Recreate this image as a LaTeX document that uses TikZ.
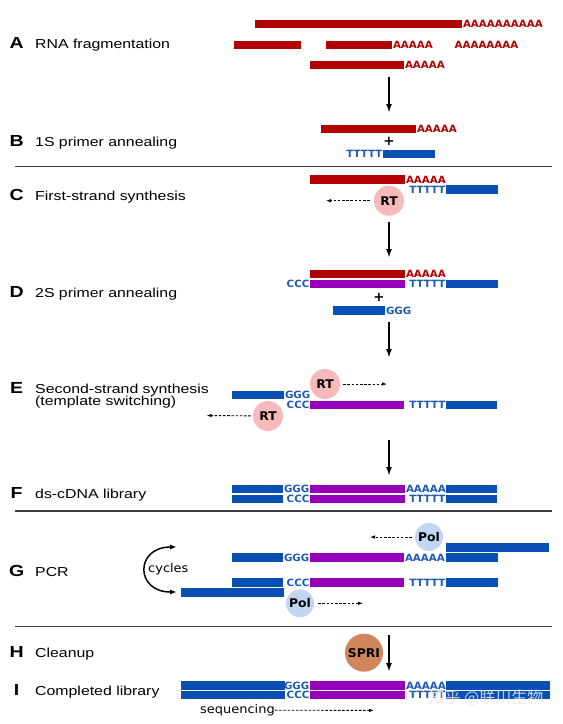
\documentclass[tikz,border=0pt]{standalone}
\usepackage{fontspec}
\setmainfont{Liberation Sans}[FakeStretch=1.22]
\newfontfamily\seqfont{DejaVu Sans}[FakeStretch=1.03]
\newfontfamily\notefont{DejaVu Sans}[FakeStretch=1.08]
\newfontfamily\cjkfont{Noto Sans CJK SC}
\usetikzlibrary{positioning,arrows.meta}

\definecolor{rnared}{RGB}{178,0,0}
\definecolor{dnablue}{RGB}{10,80,180}
\definecolor{seqblue}{RGB}{30,90,180}
\definecolor{hybpurple}{RGB}{150,0,185}
\definecolor{rtpink}{RGB}{246,186,186}
\definecolor{polblue}{RGB}{192,214,242}
\definecolor{spribrown}{RGB}{208,134,92}

\tikzset{
  strand/.style={rectangle, inner sep=0pt, minimum height=8.2pt, anchor=west},
  seqtxt/.style={inner sep=0.4pt, font=\seqfont\bfseries\fontsize{10}{10}\selectfont},
  steplett/.style={anchor=base, inner sep=0pt, font=\bfseries\fontsize{16}{16}\selectfont},
  steptxt/.style={anchor=base west, inner sep=0pt, font=\fontsize{13}{13}\selectfont},
  enzyme/.style={circle, inner sep=0pt, font=\seqfont\bfseries\fontsize{12}{12}\selectfont},
  plussign/.style={inner sep=0pt, font=\seqfont\bfseries\fontsize{13}{13}\selectfont},
  steparrow/.style={-{Latex[length=9pt,width=6pt]}, line width=1.8pt},
  dasharrow/.style={-{Latex[length=5pt,width=3.6pt]}, line width=0.9pt, dash pattern=on 2.6pt off 1.6pt},
  sepline/.style={black!75, line width=1.2pt}
}

\begin{document}
\begin{tikzpicture}[x=1pt, y=-1pt]
  \useasboundingbox (0,0) rectangle (563,724);
  \def\barh{8.2pt}

  % step labels
  \node[steplett] (la) at (16.7,48.7) {A};
  \node[steptxt] (ta) at (35,48.7) {RNA fragmentation};
  \node[steplett] (lb) at (16.7,146) {B};
  \node[steptxt] (tb) at (35,146) {1S primer annealing};
  \node[steplett] (lc) at (16.7,200.5) {C};
  \node[steptxt] (tc) at (35,200.5) {First-strand synthesis};
  \node[steplett] (ld) at (16.7,297.5) {D};
  \node[steptxt] (td) at (35,297.5) {2S primer annealing};
  \node[steplett] (le) at (16.7,393.5) {E};
  \node[steptxt] (te) at (35,393.5) {Second-strand synthesis};
  \node[steptxt] (te2) at (35,405.8) {(template switching)};
  \node[steplett] (lf) at (16.7,498.5) {F};
  \node[steptxt] (tf) at (35,498.5) {ds-cDNA library};
  \node[steplett] (lg) at (16.7,576) {G};
  \node[steptxt] (tg) at (35,576) {PCR};
  \node[steplett] (lh) at (16.7,657) {H};
  \node[steptxt] (th) at (35,657) {Cleanup};
  \node[steplett] (li) at (16.7,695) {I};
  \node[steptxt] (ti) at (35,695) {Completed library};

  % separators
  \draw[sepline] (15,166.5) -- (552,166.5);
  \draw[sepline] (15,511) -- (552,511);
  \draw[sepline] (15,626.5) -- (552,626.5);

  % A: fragments
  \node[strand, fill=rnared, minimum width=207pt] (a1) at (255,24.2) {};
  \node[seqtxt, text=rnared, right=0pt of a1] (a1t) {AAAAAAAAAA};
  \node[strand, fill=rnared, minimum width=67pt] (a2) at (234,44.7) {};
  \node[strand, fill=rnared, minimum width=66pt] (a3) at (326,44.7) {};
  \node[seqtxt, text=rnared, right=0pt of a3] (a3t) {AAAAA};
  \node[seqtxt, text=rnared, anchor=west] (a4t) at (454,44.7) {AAAAAAAA};
  \node[strand, fill=rnared, minimum width=94pt] (a5) at (310,65.3) {};
  \node[seqtxt, text=rnared, right=0pt of a5] (a5t) {AAAAA};

  % B: 1S primer
  \node[strand, fill=rnared, minimum width=95pt] (b1) at (321,128.7) {};
  \node[seqtxt, text=rnared, right=0pt of b1] (b1t) {AAAAA};
  \node[plussign] (bplus) at (389,141) {+};
  \node[strand, fill=dnablue, minimum width=52pt] (b2) at (383,154.3) {};
  \node[seqtxt, text=seqblue, left=0pt of b2] (b2t) {TTTTT};

  % C: first strand
  \node[strand, fill=rnared, minimum width=95pt] (c1) at (310,179.5) {};
  \node[seqtxt, text=rnared, right=0pt of c1] (c1t) {AAAAA};
  \node[strand, fill=dnablue, minimum width=52pt] (c2) at (446,189.5) {};
  \node[seqtxt, text=seqblue, left=0pt of c2] (c2t) {TTTTT};

  % D: 2S primer
  \node[strand, fill=rnared, minimum width=95pt] (d1) at (310,274.3) {};
  \node[seqtxt, text=rnared, right=0pt of d1] (d1t) {AAAAA};
  \node[strand, fill=hybpurple, minimum width=95pt] (d2) at (310,284.2) {};
  \node[seqtxt, text=seqblue, left=0pt of d2] (d2t) {CCC};
  \node[strand, fill=dnablue, minimum width=52pt] (d3) at (446,284.2) {};
  \node[seqtxt, text=seqblue, left=0pt of d3] (d3t) {TTTTT};
  \node[plussign] (dplus) at (379,297.7) {+};
  \node[strand, fill=dnablue, minimum width=52pt] (d4) at (333,310.5) {};
  \node[seqtxt, text=seqblue, right=0pt of d4] (d4t) {GGG};

  % E: template switching
  \node[strand, fill=dnablue, minimum width=52pt] (e1) at (232,395.3) {};
  \node[seqtxt, text=seqblue, right=0pt of e1] (e1t) {GGG};
  \node[strand, fill=hybpurple, minimum width=94pt] (e2) at (310,405.3) {};
  \node[seqtxt, text=seqblue, left=0pt of e2] (e2t) {CCC};
  \node[strand, fill=dnablue, minimum width=51pt] (e3) at (446,405.3) {};
  \node[seqtxt, text=seqblue, left=0pt of e3] (e3t) {TTTTT};

  % F: ds-cDNA
  \node[strand, fill=dnablue, minimum width=51pt] (f1) at (232,489) {};
  \node[strand, fill=hybpurple, minimum width=95pt] (f2) at (310,489) {};
  \node[seqtxt, text=seqblue, left=0pt of f2] (f2t) {GGG};
  \node[seqtxt, text=seqblue, right=0pt of f2] (f2a) {AAAAA};
  \node[strand, fill=dnablue, minimum width=51pt] (f3) at (446,489) {};
  \node[strand, fill=dnablue, minimum width=51pt] (f4) at (232,498.7) {};
  \node[strand, fill=hybpurple, minimum width=95pt] (f5) at (310,498.7) {};
  \node[seqtxt, text=seqblue, left=0pt of f5] (f5t) {CCC};
  \node[strand, fill=dnablue, minimum width=51pt] (f6) at (446,498.7) {};
  \node[seqtxt, text=seqblue, left=0pt of f6] (f6t) {TTTTT};

  % G: PCR
  \node[strand, fill=dnablue, minimum width=103pt] (g0) at (446,547.5) {};
  \node[strand, fill=dnablue, minimum width=51pt] (g1) at (232,557.5) {};
  \node[strand, fill=hybpurple, minimum width=94pt] (g2) at (310,557.5) {};
  \node[seqtxt, text=seqblue, left=0pt of g2] (g2t) {GGG};
  \node[seqtxt, text=seqblue, right=0pt of g2] (g2a) {AAAAA};
  \node[strand, fill=dnablue, minimum width=52pt] (g3) at (446,557.5) {};
  \node[strand, fill=dnablue, minimum width=51pt] (g4) at (232,582.5) {};
  \node[strand, fill=hybpurple, minimum width=94pt] (g5) at (310,582.5) {};
  \node[seqtxt, text=seqblue, left=0pt of g5] (g5t) {CCC};
  \node[strand, fill=dnablue, minimum width=52pt] (g6) at (446,582.5) {};
  \node[seqtxt, text=seqblue, left=0pt of g6] (g6t) {TTTTT};
  \node[strand, fill=dnablue, minimum width=103pt] (g7) at (181,592.5) {};

  % I: completed library
  \node[strand, fill=dnablue, minimum width=104pt] (i1) at (181,685.5) {};
  \node[strand, fill=hybpurple, minimum width=95pt] (i2) at (310,685.5) {};
  \node[seqtxt, text=seqblue, left=0pt of i2] (i2t) {GGG};
  \node[seqtxt, text=seqblue, right=0pt of i2] (i2a) {AAAAA};
  \node[strand, fill=dnablue, minimum width=104pt] (i3) at (446,685.5) {};
  \node[strand, fill=dnablue, minimum width=104pt] (i4) at (181,695.2) {};
  \node[strand, fill=hybpurple, minimum width=95pt] (i5) at (310,695.2) {};
  \node[seqtxt, text=seqblue, left=0pt of i5] (i5t) {CCC};
  \node[strand, fill=dnablue, minimum width=104pt] (i6) at (446,695.2) {};
  \node[seqtxt, text=seqblue, left=0pt of i6] (i6t) {TTTTT};

  % enzymes
  \node[enzyme, fill=rtpink, minimum size=30pt] (rtc) at (389,200.7) {RT};
  \node[enzyme, fill=rtpink, minimum size=30pt] (rte1) at (325,384) {RT};
  \node[enzyme, fill=rtpink, minimum size=30pt] (rte2) at (268,416) {RT};
  \node[enzyme, fill=polblue, minimum size=28pt] (pol1) at (429,537) {Pol};
  \node[enzyme, fill=polblue, minimum size=28pt] (pol2) at (300,603.3) {Pol};
  \node[enzyme, fill=spribrown, minimum size=38pt] (spri) at (364,652.7) {SPRI};

  \coordinate (rtcend) at (326,200.7);
  \coordinate (rte1end) at (387,384);
  \coordinate (rte2end) at (206.7,415.5);
  \coordinate (pol1end) at (370,537);
  \coordinate (pol2end) at (363,603.3);
  \draw[dasharrow, shorten <=4pt] (rtc) -- (rtcend);
  \draw[dasharrow, shorten <=3pt] (rte1) -- (rte1end);
  \draw[dasharrow, shorten <=2pt] (rte2) -- (rte2end);
  \draw[dasharrow, shorten <=3pt] (pol1) -- (pol1end);
  \draw[dasharrow, shorten <=4pt] (pol2) -- (pol2end);

  % cycles
  \coordinate (cyc0) at (177,547);
  \coordinate (cyc1) at (177,592);
  \draw[{Latex[length=7pt,width=5pt]}-{Latex[length=7pt,width=5pt]}, line width=1.5pt] (cyc0) to[out=180, in=180, looseness=2.4] (cyc1);
  \node[anchor=base west, inner sep=0pt, font=\notefont\fontsize{12}{12}\selectfont] (cyclbl) at (148,572.5) {cycles};

  % sequencing
  \node[anchor=base west, inner sep=0pt, font=\notefont\fontsize{12}{12}\selectfont] (seqlbl) at (200,713.5) {sequencing};
  \coordinate (seqend) at (374,710.4);
  \draw[dasharrow] (seqlbl.east) -- (seqend);

  % step arrows
  \coordinate (ab0) at (389,77);   \coordinate (ab1) at (389,113);
  \coordinate (cd0) at (389,222);  \coordinate (cd1) at (389,258);
  \coordinate (de0) at (389,322);  \coordinate (de1) at (389,358);
  \coordinate (ef0) at (389,440);  \coordinate (ef1) at (389,476);
  \coordinate (hi0) at (389,635);  \coordinate (hi1) at (389,672);
  \draw[steparrow] (ab0) -- (ab1);
  \draw[steparrow] (cd0) -- (cd1);
  \draw[steparrow] (de0) -- (de1);
  \draw[steparrow] (ef0) -- (ef1);
  \draw[steparrow] (hi0) -- (hi1);

  % watermark
  \node[inner sep=0pt, text=white!82!gray, text opacity=0.85, font=\cjkfont\fontsize{16}{16}\selectfont] (wm) at (486,698) {知乎 @联川生物};
\end{tikzpicture}
\end{document}
